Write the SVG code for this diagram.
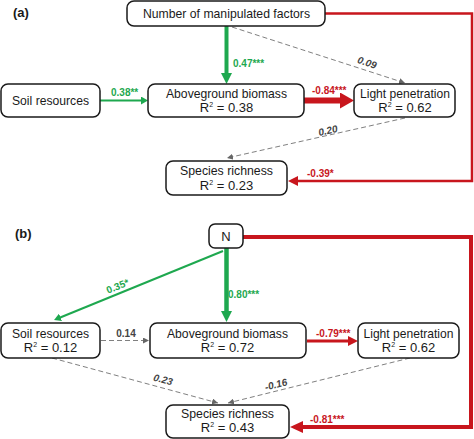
<svg xmlns="http://www.w3.org/2000/svg" width="474" height="439" viewBox="0 0 474 439">
<style>
.box{fill:#fff;stroke:#1a1a1a;stroke-width:1.5}
.t{font-family:"Liberation Sans",Arial,sans-serif;font-size:13px;fill:#1a1a1a;text-anchor:middle}
.sup{font-size:7px}
.pl{font-family:"Liberation Sans",Arial,sans-serif;font-size:13px;font-weight:bold;fill:#1a1a1a}
.lg{font-family:"Liberation Sans",Arial,sans-serif;font-size:10px;font-weight:bold;fill:#1ea84f}
.lr{font-family:"Liberation Sans",Arial,sans-serif;font-size:10px;font-weight:bold;fill:#c8161d}
.ld{font-family:"Liberation Sans",Arial,sans-serif;font-size:10px;font-weight:bold;font-style:italic;fill:#444;text-anchor:middle}
.g{stroke:#1ea84f;fill:none}
.r{stroke:#c8161d;fill:none}
.d{stroke:#808080;stroke-width:1;stroke-dasharray:5,3;fill:none}
</style>
<defs>
<marker id="gBig" markerUnits="userSpaceOnUse" markerWidth="11" markerHeight="11" viewBox="0 0 11 11" refX="1" refY="5.5" orient="auto"><path d="M0,0L11,5.5L0,11z" fill="#1ea84f"/></marker>
<marker id="gSm" markerUnits="userSpaceOnUse" markerWidth="7" markerHeight="8" viewBox="0 0 7 8" refX="1" refY="4" orient="auto"><path d="M0,0L7,4L0,8z" fill="#1ea84f"/></marker>
<marker id="rBig" markerUnits="userSpaceOnUse" markerWidth="14" markerHeight="16" viewBox="0 0 14 16" refX="1" refY="8" orient="auto"><path d="M0,0L14,8L0,16z" fill="#c8161d"/></marker>
<marker id="rMid" markerUnits="userSpaceOnUse" markerWidth="10" markerHeight="10" viewBox="0 0 10 10" refX="1" refY="5" orient="auto"><path d="M0,0L10,5L0,10z" fill="#c8161d"/></marker>
<marker id="rMid2" markerUnits="userSpaceOnUse" markerWidth="13" markerHeight="12" viewBox="0 0 13 12" refX="1" refY="6" orient="auto"><path d="M0,0L13,6L0,12z" fill="#c8161d"/></marker>
<marker id="gr" markerUnits="userSpaceOnUse" markerWidth="6" markerHeight="6" viewBox="0 0 6 6" refX="6" refY="3" orient="auto"><path d="M0,0L6,3L0,6z" fill="#666"/></marker>
</defs>

<text class="pl" x="13" y="17">(a)</text>
<text class="pl" x="15" y="238">(b)</text>

<g id="connectors">
<!-- panel a -->
<line class="g" x1="226.5" y1="26" x2="226.5" y2="74" stroke-width="4" marker-end="url(#gBig)"/>
<line class="g" x1="100" y1="100.5" x2="142" y2="100.5" stroke-width="2" marker-end="url(#gSm)"/>
<line class="r" x1="304" y1="100.5" x2="341" y2="100.5" stroke-width="6" marker-end="url(#rBig)"/>
<path class="r" d="M325,13.5H472V181H297" stroke-width="2.5" marker-end="url(#rMid)"/>
<line class="d" x1="232" y1="27" x2="405" y2="83" marker-end="url(#gr)"/>
<line class="d" x1="405" y1="118" x2="227" y2="158" marker-end="url(#gr)"/>
<!-- panel b -->
<line class="g" x1="226.5" y1="248" x2="226.5" y2="312" stroke-width="4.5" marker-end="url(#gBig)"/>
<line class="g" x1="223" y1="251" x2="59.6" y2="317.7" stroke-width="2" marker-end="url(#gSm)"/>
<line class="d" x1="101" y1="340.5" x2="149" y2="340.5" marker-end="url(#gr)"/>
<line class="r" x1="307" y1="341" x2="349" y2="341" stroke-width="3" marker-end="url(#rMid)"/>
<path class="r" d="M243,237H471V427H302" stroke-width="4" marker-end="url(#rMid2)"/>
<line class="d" x1="52" y1="358" x2="218" y2="403" marker-end="url(#gr)"/>
<line class="d" x1="410" y1="358" x2="228" y2="403" marker-end="url(#gr)"/>
</g>

<g id="labels">
<text class="lg" x="233" y="67">0.47***</text>
<text class="lg" x="111" y="96">0.38**</text>
<text class="lr" x="312" y="94">-0.84***</text>
<text class="lr" x="307" y="177">-0.39*</text>
<text class="ld" x="367" y="66" transform="rotate(18 367 63)">0.09</text>
<text class="ld" x="328" y="134" transform="rotate(-13 328 131)">0.20</text>
<text class="lg" x="107" y="294" transform="rotate(-22 107 291)">0.35*</text>
<text class="lg" x="228" y="298">0.80***</text>
<text class="ld" x="126" y="337" style="font-style:normal">0.14</text>
<text class="lr" x="316" y="337">-0.79***</text>
<text class="ld" x="163" y="383" transform="rotate(15 163 380)">0.23</text>
<text class="ld" x="276" y="388" transform="rotate(-14 276 385)">-0.16</text>
<text class="lr" x="310" y="423">-0.81***</text>
</g>

<g id="a-factors">
<rect class="box" x="127" y="1" width="198" height="25" rx="7"/>
<text class="t" x="226.5" y="18" textLength="167" lengthAdjust="spacingAndGlyphs">Number of manipulated factors</text>
</g>
<g id="a-soil">
<rect class="box" x="1" y="84" width="99" height="33" rx="7"/>
<text class="t" x="50.5" y="105" textLength="77" lengthAdjust="spacingAndGlyphs">Soil resources</text>
</g>
<g id="a-biomass">
<rect class="box" x="148" y="84" width="156" height="33" rx="7"/>
<text class="t" x="226.5" y="97.5" textLength="121" lengthAdjust="spacingAndGlyphs">Aboveground biomass</text>
<text class="t" x="226.5" y="112">R<tspan class="sup" dy="-5">2</tspan><tspan dy="5"> = 0.38</tspan></text>
</g>
<g id="a-light">
<rect class="box" x="354" y="84" width="101" height="33" rx="7"/>
<text class="t" x="405" y="97.5" textLength="90" lengthAdjust="spacingAndGlyphs">Light penetration</text>
<text class="t" x="405" y="112">R<tspan class="sup" dy="-5">2</tspan><tspan dy="5"> = 0.62</tspan></text>
</g>
<g id="a-richness">
<rect class="box" x="166" y="161" width="121" height="34" rx="7"/>
<text class="t" x="226.5" y="174.5" textLength="93" lengthAdjust="spacingAndGlyphs">Species richness</text>
<text class="t" x="226.5" y="189.5">R<tspan class="sup" dy="-5">2</tspan><tspan dy="5"> = 0.23</tspan></text>
</g>

<g id="b-n">
<rect class="box" x="209" y="224" width="34" height="24" rx="6"/>
<text class="t" x="226" y="241">N</text>
</g>
<g id="b-soil">
<rect class="box" x="1" y="323" width="99" height="35" rx="7"/>
<text class="t" x="50.5" y="337.5" textLength="77" lengthAdjust="spacingAndGlyphs">Soil resources</text>
<text class="t" x="50.5" y="351.5">R<tspan class="sup" dy="-5">2</tspan><tspan dy="5"> = 0.12</tspan></text>
</g>
<g id="b-biomass">
<rect class="box" x="150" y="323" width="156" height="35" rx="7"/>
<text class="t" x="227.5" y="337.5" textLength="121" lengthAdjust="spacingAndGlyphs">Aboveground biomass</text>
<text class="t" x="227.5" y="351.5">R<tspan class="sup" dy="-5">2</tspan><tspan dy="5"> = 0.72</tspan></text>
</g>
<g id="b-light">
<rect class="box" x="358" y="323" width="101" height="35" rx="7"/>
<text class="t" x="408.5" y="337.5" textLength="90" lengthAdjust="spacingAndGlyphs">Light penetration</text>
<text class="t" x="408.5" y="351.5">R<tspan class="sup" dy="-5">2</tspan><tspan dy="5"> = 0.62</tspan></text>
</g>
<g id="b-richness">
<rect class="box" x="166" y="405" width="123" height="33" rx="7"/>
<text class="t" x="227.5" y="418" textLength="93" lengthAdjust="spacingAndGlyphs">Species richness</text>
<text class="t" x="227.5" y="432">R<tspan class="sup" dy="-5">2</tspan><tspan dy="5"> = 0.43</tspan></text>
</g>
</svg>
